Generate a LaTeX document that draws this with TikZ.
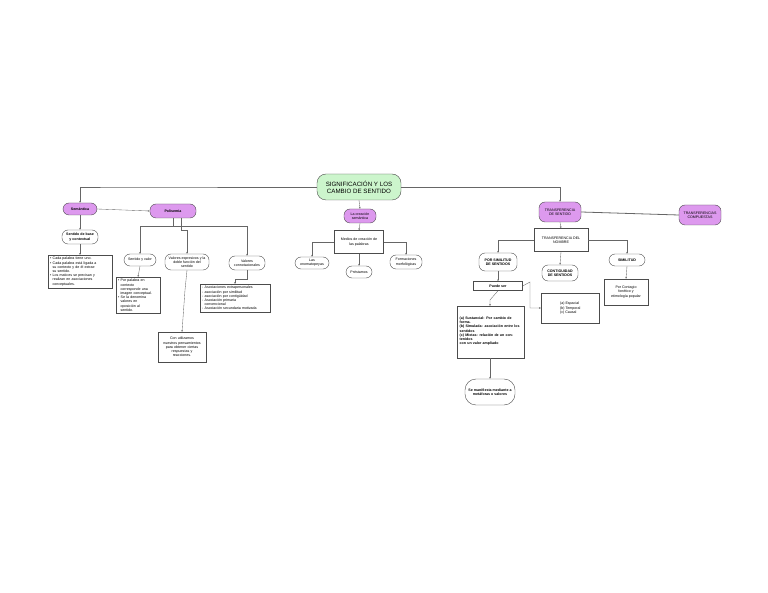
\documentclass[tikz,border=0pt]{standalone}
\usepackage{fontspec}
\setmainfont{Liberation Sans}
\usetikzlibrary{arrows.meta}
\definecolor{pur}{HTML}{DD99EE}
\definecolor{grn}{HTML}{CCF5CC}
\begin{document}
\begin{tikzpicture}[x=1pt,y=-1pt,
 every node/.style={font=\fontsize{3.6}{4.2}\selectfont, align=center, inner sep=1pt},
 pill/.style={draw=black!70, fill=pur, rounded corners=6pt, minimum height=14pt, line width=0.4pt},
 oval/.style={draw=black!70, fill=white, rounded corners=6pt, line width=0.4pt},
 rbox/.style={draw=black!70, fill=white, line width=0.4pt, align=left, anchor=north west, inner sep=2pt},
 con/.style={draw=black!60, line width=0.35pt, -{Stealth[length=2pt,width=1.6pt]}},
 lin/.style={draw=black!60, line width=0.35pt}]
\useasboundingbox (0,0) rectangle (768,593);
\node[draw=black!70, fill=grn, rounded corners=9pt, minimum width=84pt, minimum height=26pt, font=\fontsize{6.2}{7}\selectfont] (t) at (359,187) {SIGNIFICACIÓN Y LOS\\CAMBIO DE SENTIDO};
\node[pill, minimum width=34pt, minimum height=12pt] (sem) at (80,209) {\bfseries Semántica};
\node[pill, minimum width=46pt] (pol) at (173,211) {\bfseries Polisemia};
\node[oval, minimum width=36pt, minimum height=14pt] (sbc) at (80,237) {\bfseries Sentido de base\\ \bfseries y contextual};
\node[rbox, text width=60pt] (b1) at (48,255) {• Cada palabra tiene uno.\\• Cada palabra está ligada a\\ \ \ su contexto y de él extrae\\ \ \ su sentido.\\• Los matices se precisan y\\ \ \ realizan en asociaciones\\ \ \ conceptuales.};
\node[oval, minimum width=32pt, minimum height=12pt] (sv) at (140,260) {Sentido y valor};
\node[oval, minimum width=44pt, minimum height=16pt] (ve) at (187,262) {Valores expresivos y la\\doble función del\\sentido};
\node[oval, minimum width=36pt, minimum height=14pt] (vc) at (247,263) {Valores\\connotacionales};
\node[rbox, text width=40pt] (b2) at (116,277) {• Por palabra en\\ \ \ contexto\\ \ \ corresponde una\\ \ \ imagen conceptual.\\• Se la denomina\\ \ \ valores en\\ \ \ oposición al\\ \ \ sentido.};
\node[rbox, text width=66pt] (b3) at (200,284) {- Asociaciones extrapersonales\\- asociación por similitud\\- asociación por contigüidad\\- Asociación primaria\\ \ \ convencional\\- Asociación secundaria motivada};
\node[draw=black!70, fill=white, minimum width=48pt, minimum height=30pt, text width=44pt] (b4) at (182,347) {Con utilizamos\\nuestros pensamientos\\para obtener ciertas\\respuestas y\\reacciones.};
\node[pill, minimum width=32pt] (cre) at (360,216) {La creación\\semántica};
\node[draw=black!70, fill=white, minimum width=49pt, minimum height=23pt] (med) at (359,242) {Medios de creación de\\las palabras};
\node[oval, minimum width=34pt, minimum height=12pt] (ono) at (312,263) {Las\\onomatopeyas};
\node[oval, minimum width=26pt, minimum height=12pt] (pre) at (359,272) {Préstamos};
\node[oval, minimum width=32pt, minimum height=14pt] (for) at (406,262) {Formaciones\\morfológicas};
\node[pill, minimum width=42pt, minimum height=20pt] (ts) at (560,212) {TRANSFERENCIA\\DE SENTIDO};
\node[pill, minimum width=42pt, minimum height=20pt] (tc) at (700,215) {TRANSFERENCIAS\\COMPUESTAS};
\node[draw=black!70, fill=white, minimum width=54pt, minimum height=23pt] (tn) at (561,240) {TRANSFERENCIA DEL\\NOMBRE};
\node[oval, minimum width=38pt, minimum height=18pt] (ps) at (498,262) {\bfseries POR SIMILITUD\\ \bfseries DE SENTIDOS};
\node[oval, minimum width=36pt, minimum height=16pt] (cs) at (560,273) {\bfseries CONTIGUIDAD\\ \bfseries DE SENTIDOS};
\node[oval, minimum width=36pt, minimum height=12pt] (si) at (627,260) {\bfseries SIMILITUD};
\node[draw=black!70, fill=white, minimum width=44pt, minimum height=26pt] (pc) at (626,292) {Por Contagio\\fonético y\\etimología popular};
\node[draw=black!70, fill=white, minimum width=49pt, minimum height=9pt] (pu) at (498,286) {\bfseries Puede ser};
\node[rbox, minimum width=58pt, minimum height=30pt] (esp) at (541,293) {(a) Espacial\\(b) Temporal\\(c) Causal};
\node[rbox, minimum width=67pt, minimum height=52pt, text width=62pt, text depth=28pt] (sus) at (457,306) {\bfseries (a) Sustancial: Por cambio de\\ \bfseries forma.\\ \bfseries (b) Simulada: asociación entre los\\ \bfseries sentidos\\ \bfseries (c) Mixtas: relación de un contenidos\\ \bfseries con un valor ampliado};
\node[oval, rounded corners=11pt, minimum width=50pt, minimum height=26pt] (man) at (490,392) {\bfseries Se manifiesta mediante a\\ \bfseries metáforas o valores};
% connectors
\draw[con] (t.west) -- (120,187) -| (sem.north);
\draw[con] (t.east) -- (560,187) -- (ts.north);
\draw[con] (t.south) -- (cre.north);
\draw[con] (sem.east) -- (pol.west);
\draw[lin, line width=0.8pt] (ts.east) -- (tc.west);
\draw[con] (sem.south) -- (sbc.north);
\draw[con] (sbc.south) -- (80,255);
\draw[con] (pol.south) -- (173,226) -| (140,254) ;
\draw[con] (173,226) -| (vc.north);
\draw[con] (pol.south) ++(8,0) |- (187,230) -- (ve.north);
\draw[con] (sv.south) -- (138,277);
\draw[con] (ve.south) ++(0,0) -- (185,290) -- (182,332);
\draw[con] (vc.south) -- (247,279) -- (235,279) -- (235,284);
\draw[con] (cre.south) -- (med.north);
\draw[con] (med.west) -| (ono.north);
\draw[con] (med.east) -| (for.north);
\draw[con] (med.south) -- (pre.north);
\draw[con] (ts.south) -- (tn.north);
\draw[con] (tn.west) -| (ps.north);
\draw[con] (tn.east) -| (si.north);
\draw[con] (tn.south) -- (cs.north);
\draw[con] (si.south) -- (pc.north);
\draw[con] (ps.south) -- (pu.north);
\draw[con] (pu.south) -- (490,300) -- (490,306);
\draw[con] (pu.east) -- (530,282) -- (530,308) -- (esp.west |- 0,308);
\draw[con] (sus.south -| man.north) -- (man.north);
\end{tikzpicture}
\end{document}
